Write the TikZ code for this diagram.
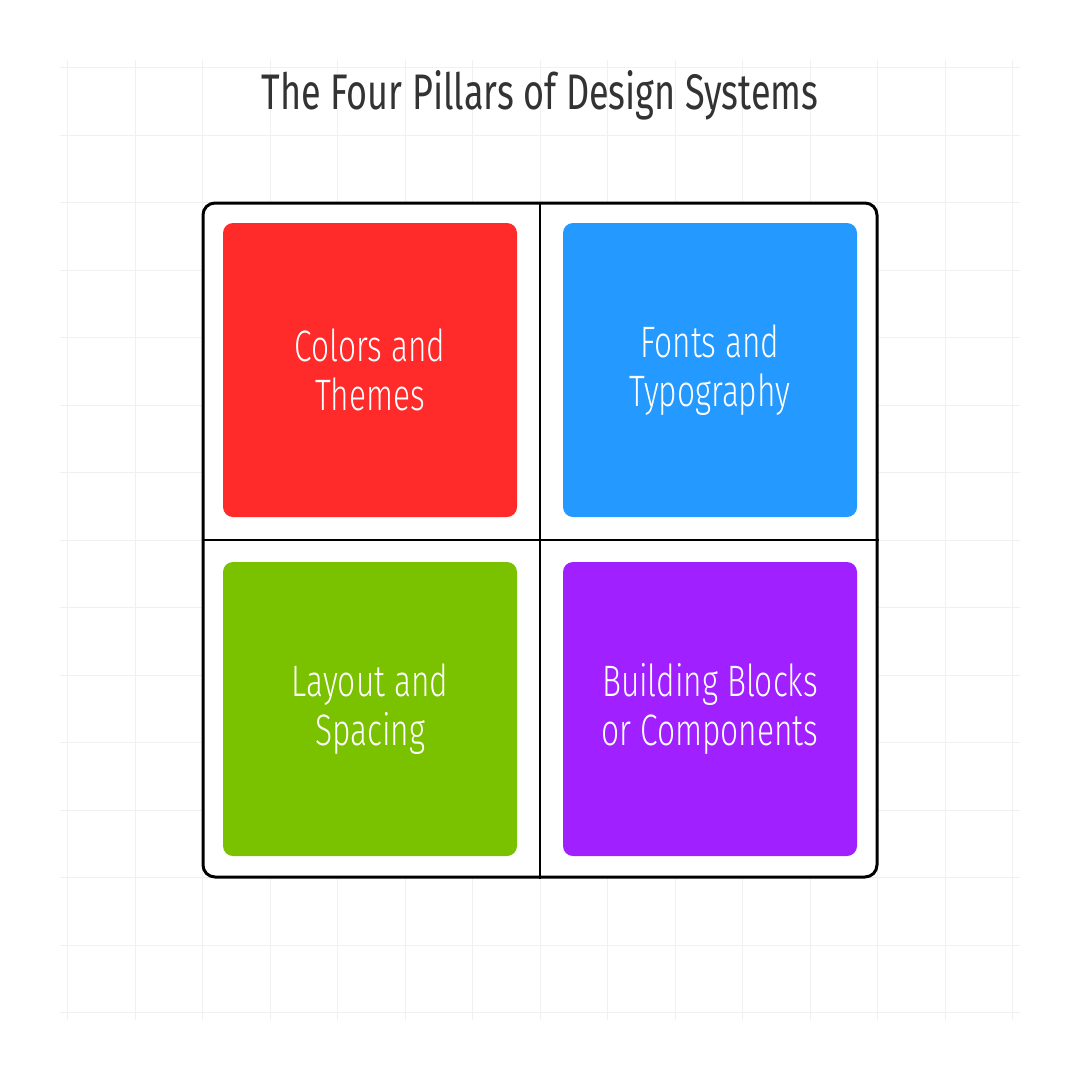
\documentclass[tikz,border=0pt]{standalone}
\usepackage{fontspec}
\setmainfont[FakeStretch=0.72]{Fira Sans Light}
\newfontfamily\titlefont[FakeStretch=0.72]{Fira Sans}
\definecolor{cred}{HTML}{FF2A2A}
\definecolor{cblue}{HTML}{2499FF}
\definecolor{cgreen}{HTML}{7AC100}
\definecolor{cpurple}{HTML}{A020FF}
\definecolor{ctitle}{HTML}{333333}
\definecolor{cgrid}{HTML}{F0F0F0}
\begin{document}
\begin{tikzpicture}[x=1pt,y=-1pt,
  pillar/.style={minimum width=294pt,minimum height=294pt,rounded corners=10pt,inner sep=0pt,
     text=white,align=center,font=\fontsize{44}{49}\selectfont}]
\useasboundingbox (0,0) rectangle (1080,1080);
\fill[white] (0,0) rectangle (1080,1080);
\foreach \i in {1,...,15}{
  \draw[cgrid,line width=1pt] (\i*67.5,60) -- (\i*67.5,1020);
  \draw[cgrid,line width=1pt] (60,\i*67.5) -- (1020,\i*67.5);
}
\node[text=ctitle,font=\titlefont\fontsize{50}{55}\selectfont] (title) at (540,95) {The Four Pillars of Design Systems};
\node[fill=white,draw=black,line width=3pt,rounded corners=12pt,minimum width=674pt,minimum height=674pt] (frame) at (540,540) {};
\draw[line width=1.5pt] (frame.north) -- (frame.south);
\draw[line width=1.5pt] (frame.west) -- (frame.east);
\node[pillar,fill=cred] (p1) at (370,370) {Colors and\\Themes};
\node[pillar,fill=cblue] (p2) at (710,370) {Fonts and\\Typography};
\node[pillar,fill=cgreen] (p3) at (370,709) {Layout and\\Spacing};
\node[pillar,fill=cpurple] (p4) at (710,709) {Building Blocks\\or Components};
\end{tikzpicture}
\end{document}
